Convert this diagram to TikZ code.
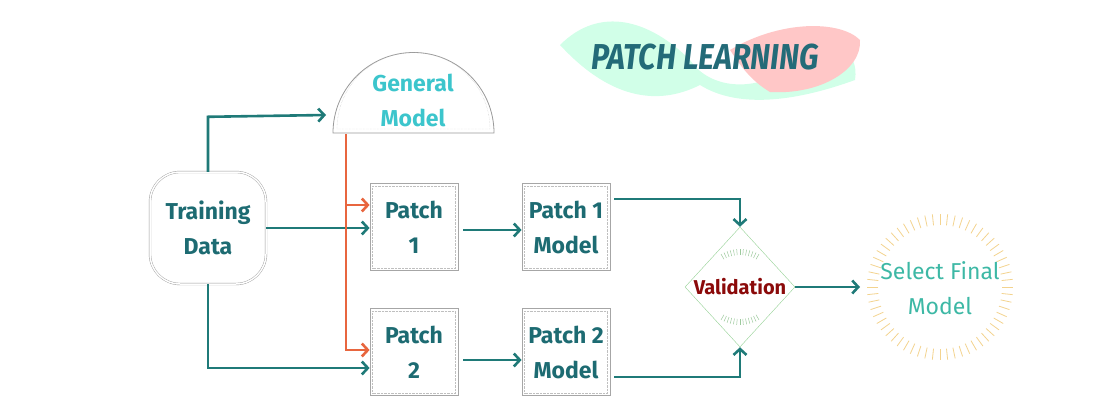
\documentclass[tikz,border=0pt]{standalone}
\usepackage{fontspec}
\setmainfont{Fira Sans}
\usetikzlibrary{shapes.geometric,arrows.meta}
\definecolor{teal}{HTML}{1F7A78}
\definecolor{txt}{HTML}{1D6B72}
\definecolor{org}{HTML}{E8663F}
\definecolor{cyn}{HTML}{3CC5CC}
\definecolor{sel}{HTML}{3DB8A5}
\definecolor{ray}{HTML}{F3D38E}
\definecolor{val}{HTML}{8B0A0A}
\definecolor{ttl}{HTML}{236B78}
\begin{document}
\begin{tikzpicture}[x=1pt,y=-1pt,
  box/.style={draw=gray!70,line width=0.8pt,minimum width=88pt,minimum height=87pt,inner sep=0pt,align=center,text=txt,font=\fontsize{23}{35}\selectfont\bfseries},
  arr/.style={draw=teal,line width=2.6pt,-{Straight Barb[length=6pt,width=13pt]}},
  oarr/.style={draw=org,line width=2.6pt,-{Straight Barb[length=6pt,width=13pt]}}]
\useasboundingbox (0,0) rectangle (1104,404);
% title brush
\fill[green!50!cyan!18] (560,45) .. controls (600,5) and (650,20) .. (690,60) .. controls (710,90) and (760,95) .. (800,60) .. controls (830,30) and (860,50) .. (855,80) .. controls (800,100) and (740,110) .. (700,85) .. controls (670,100) and (620,110) .. (560,45);
\fill[red!22] (730,50) .. controls (780,20) and (840,20) .. (860,40) .. controls (862,70) and (820,95) .. (770,92) .. controls (750,80) and (740,65) .. (730,50);
\node[text=ttl,font=\fontsize{36}{36}\selectfont\bfseries\itshape,xscale=.85] (title) at (705,57) {PATCH LEARNING};
% training data
\node[draw=gray!80,double=white,double distance=1.5pt,rounded corners=30pt,minimum width=116pt,minimum height=112pt,align=center,text=txt,font=\fontsize{23}{35}\selectfont\bfseries] (td) at (208,228) {Training\\Data};
% general model
\draw[gray!80,line width=0.8pt] (333,133) arc (180:360:80.5) -- cycle;
\draw[gray!50,densely dotted] (337,129) arc (180:360:76.5) -- cycle;
\node[text=cyn,font=\fontsize{23}{35}\selectfont\bfseries,align=center] (gm) at (413,100) {General\\Model};
\coordinate (gmb) at (346,134);
% boxes
\node[box] (p1) at (414,227) {Patch\\1};
\node[box] (p2) at (414,352) {Patch\\2};
\node[box] (m1) at (566,227) {Patch 1\\Model};
\node[box] (m2) at (566,352) {Patch 2\\Model};
\foreach \n in {p1,p2,m1,m2}{\draw[gray!50,densely dotted] ([shift={(3,-3)}]\n.south west) rectangle ([shift={(-3,3)}]\n.north east);}
% validation
\node[diamond,draw=green!40!gray!60,minimum width=110pt,minimum height=120pt,inner sep=0pt] (v) at (740,287) {};
\node[text=val,font=\fontsize{20}{30}\selectfont\bfseries] (vt) at (v) {Validation};
\foreach \a in {60,65,...,120}{\draw[green!30!gray!60,line width=0.5pt] ([shift={(\a:32)}]740,287) -- ([shift={(\a:38)}]740,287);
\draw[green!30!gray!60,line width=0.5pt] ([shift={(-\a:32)}]740,287) -- ([shift={(-\a:38)}]740,287);}
% select final
\foreach \a in {0,6,...,354}{\draw[ray,line width=0.8pt] ([shift={(\a:62)}]940,287) -- ([shift={(\a:73)}]940,287);}
\node[text=sel,font=\fontsize{23}{35}\selectfont,align=center] (sf) at (940,288) {Select Final\\Model};
% connectors
\draw[arr] (td.north) -- ++(0,-55) -- (326,115);
\draw[arr] (td.east) -- (td.east -| p1.west);
\draw[arr] (td.south) |- ([yshift=-16pt]p2.west);
\draw[oarr] (gmb) |- ([yshift=22pt]p1.west);
\draw[oarr] (gmb) |- ([yshift=2pt]p2.west);
\draw[arr] ([xshift=5pt]p1.east |- 0,230) -- (m1.west |- 0,230);
\draw[arr] ([xshift=5pt]p2.east |- 0,360) -- (m2.west |- 0,360);
\draw[arr] ([xshift=4pt]m1.east |- 0,199) -| (v.north);
\draw[arr] ([xshift=4pt]m2.east |- 0,377) -| (v.south);
\draw[arr] (v.east) -- (860,287);
\end{tikzpicture}
\end{document}
